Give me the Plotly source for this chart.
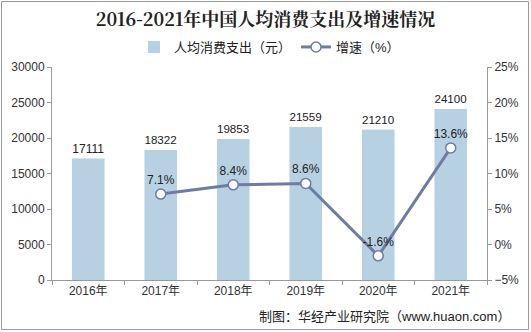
import plotly.graph_objects as go

years = ["2016年", "2017年", "2018年", "2019年", "2020年", "2021年"]
spending = [17111, 18322, 19853, 21559, 21210, 24100]
growth_years = ["2017年", "2018年", "2019年", "2020年", "2021年"]
growth = [7.1, 8.4, 8.6, -1.6, 13.6]

W, H = 531, 332
L, R, T, B = 52, 44, 67, 52
pw, ph = W - L - R, H - T - B

def px(x):
    return (x - L) / pw

def py(y):
    return (H - B - y) / ph

font_fam = "Liberation Sans, Arial, Noto Sans CJK SC, sans-serif"
bar_color = "#b7d1e3"
line_color = "#6f7ca2"

fig = go.Figure()
fig.add_trace(go.Bar(
    x=years, y=spending, name="人均消费支出（元）",
    marker=dict(color=bar_color, line=dict(width=0)),
    text=[str(v) for v in spending], textposition="outside",
    textfont=dict(size=12, color="#222"), cliponaxis=False,
    yaxis="y",
))
fig.add_trace(go.Scatter(
    x=growth_years, y=growth, name="增速（%）", mode="lines+markers+text",
    line=dict(color=line_color, width=3),
    marker=dict(size=10, color="white", line=dict(color=line_color, width=1.5)),
    text=[f"{v}%" for v in growth], textposition="top center",
    textfont=dict(size=12, color="#222"), cliponaxis=False,
    yaxis="y2",
))

fig.update_layout(
    width=W, height=H,
    margin=dict(l=L, r=R, t=T, b=B),
    paper_bgcolor="white", plot_bgcolor="white",
    font=dict(family=font_fam, size=12, color="#333"),
    title=dict(text="<b>2016-2021年中国人均消费支出及增速情况</b>",
               x=0.5, xanchor="center", y=1 - 20 / H, yanchor="middle",
               font=dict(family="Noto Serif CJK SC, Noto Sans CJK SC, serif", size=18, color="#222")),
    bargap=0.55,
    showlegend=True,
    legend=dict(orientation="h", x=0.5, xanchor="center", y=py(47), yanchor="middle",
                font=dict(size=13, color="#222"), bgcolor="rgba(0,0,0,0)",
                itemwidth=30, traceorder="normal"),
    xaxis=dict(type="category", showline=True, linecolor="#999", linewidth=1,
               ticks="outside", tickson="boundaries", ticklen=4, tickcolor="#999",
               tickfont=dict(size=12, color="#333"), showgrid=False),
    yaxis=dict(range=[0, 30000], dtick=5000, showline=True, linecolor="#999",
               ticks="outside", ticklen=4, tickcolor="#999", showgrid=False,
               zeroline=False, tickfont=dict(size=12, color="#333"), tickformat="d"),
    yaxis2=dict(range=[-5, 25], dtick=5, overlaying="y", side="right",
                showline=True, linecolor="#999", ticks="outside", ticklen=4,
                tickcolor="#999", showgrid=False, zeroline=False, ticksuffix="%",
                tickfont=dict(size=12, color="#333")),
)

fig.add_annotation(text="制图：华经产业研究院（www.huaon.com）",
                   xref="paper", yref="paper", x=px(512), y=py(316),
                   xanchor="right", yanchor="middle", showarrow=False,
                   font=dict(size=13, color="#222"))

fig.add_shape(type="rect", xref="paper", yref="paper",
              x0=px(1.5), x1=px(528.5), y0=py(1.5), y1=py(329.5),
              line=dict(color="#999", width=1), fillcolor="rgba(0,0,0,0)", layer="below")

fig.write_html("out.html")
